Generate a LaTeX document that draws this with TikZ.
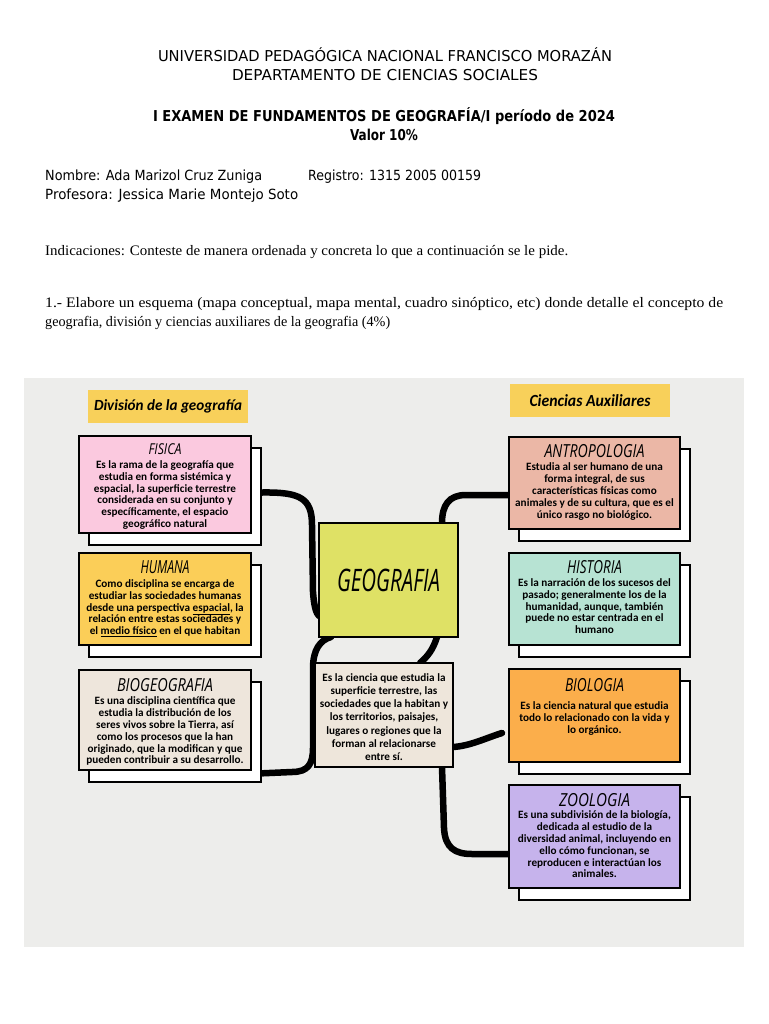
\documentclass[tikz,border=0pt]{standalone}
\usepackage{fontspec}
\usepackage{graphicx}
\setmainfont{Liberation Serif}
\newfontfamily\headf{DejaVu Sans}
\newfontfamily\bodyf{Carlito}
\newfontfamily\titlef{Open Sans}
\usetikzlibrary{calc}

\definecolor{bgpanel}{HTML}{EDEDEB}
\definecolor{tagyel}{HTML}{F8D05A}
\definecolor{cFis}{HTML}{FBC9DF}
\definecolor{cHum}{HTML}{FBCE58}
\definecolor{cBge}{HTML}{EEE6DC}
\definecolor{cAnt}{HTML}{EBB7A6}
\definecolor{cHis}{HTML}{B7E3D3}
\definecolor{cBio}{HTML}{FBAE4B}
\definecolor{cZoo}{HTML}{C6B3EC}
\definecolor{cGeo}{HTML}{DFE165}
\definecolor{cDef}{HTML}{EEE6DB}

\newsavebox\fitbox
\newlength\fitlen
\newcommand\hfit[2]{\sbox\fitbox{#2}\setlength\fitlen{\wd\fitbox}\pgfmathsetmacro\fitratio{#1/\fitlen}\scalebox{\fitratio}[1]{\usebox\fitbox}}
\newcommand\firstln{\rule{0pt}{9pt}}

\tikzset{
  card/.style={draw=black, line width=2.6pt, rectangle, inner sep=0pt},
  backcard/.style={card, fill=white},
  conn/.style={line width=6.5pt, draw=black, line cap=round},
  ttl/.style={inner sep=0pt, font=\titlef\itshape\fontsize{18}{18}\selectfont},
  bod/.style={inner sep=0pt, align=center, anchor=north, font=\bodyf\bfseries\fontsize{11.2}{11.8}\selectfont},
  tag/.style={fill=tagyel, inner sep=0pt, minimum width=160pt, minimum height=33pt},
  hdr/.style={inner sep=0pt, anchor=base, font=\headf\fontsize{15}{15}\selectfont},
  hdrb/.style={hdr, font=\headf\bfseries\fontsize{15}{15}\selectfont},
  info/.style={inner sep=0pt, anchor=base west, font=\headf\fontsize{14}{14}\selectfont},
  serif/.style={inner sep=0pt, anchor=base west, font=\fontsize{14.5}{14.5}\selectfont},
}

\begin{document}
\begin{tikzpicture}[x=1pt, y=-1pt]
\fill[white] (0,0) rectangle (768,1024);
\useasboundingbox (0,0) rectangle (768,1024);

% header text
\node[hdr] (h1) at (385,62) {\hfit{454}{UNIVERSIDAD PEDAGÓGICA NACIONAL FRANCISCO MORAZÁN}};
\node[hdr] (h2) at (385,81) {\hfit{306}{DEPARTAMENTO DE CIENCIAS SOCIALES}};
\node[hdrb] (h3) at (384,122) {\hfit{462}{I EXAMEN DE FUNDAMENTOS DE GEOGRAFÍA/I período de 2024}};
\node[hdrb] (h4) at (384,141) {\hfit{68}{Valor 10\%}};
\node[info] (nom) at (45,181) {\hfit{217}{Nombre: Ada Marizol Cruz Zuniga}};
\node[info] (reg) at (308,181) {\hfit{173}{Registro: 1315 2005 00159}};
\node[info] (prof) at (45,200) {\hfit{253}{Profesora: Jessica Marie Montejo Soto}};
\node[serif] (ind) at (45,255) {\hfit{523}{Indicaciones: Conteste de manera ordenada y concreta lo que a continuación se le pide.}};
\node[serif] (q1) at (45,307) {\hfit{678}{1.- Elabore un esquema (mapa conceptual, mapa mental, cuadro sinóptico, etc) donde detalle el concepto de}};
\node[serif] (q2) at (45,326) {\hfit{345}{geografia, división y ciencias auxiliares de la geografia (4\%)}};

% panel
\fill[bgpanel] (24,378) rectangle (744,947);

% tags
\node[tag] (tagL) at (168,406.5) {\bodyf\bfseries\itshape\fontsize{15.5}{15.5}\selectfont\hfit{148}{División de la geografía}};
\node[tag] (tagR) at (590,400.5) {\bodyf\bfseries\itshape\fontsize{17}{17}\selectfont\hfit{121}{Ciencias Auxiliares}};

% back cards (shadows)
\node[backcard, minimum width=172pt, minimum height=97pt] (fisB) at (175,496.5) {};
\node[backcard, minimum width=172pt, minimum height=92pt] (humB) at (175,611) {};
\node[backcard, minimum width=172pt, minimum height=100pt] (bgeB) at (175,732) {};
\node[backcard, minimum width=171pt, minimum height=92pt] (antB) at (604.5,495) {};
\node[backcard, minimum width=171pt, minimum height=92pt] (hisB) at (604.5,611) {};
\node[backcard, minimum width=171pt, minimum height=93pt] (bioB) at (604.5,727.5) {};
\node[backcard, minimum width=171pt, minimum height=103pt] (zooB) at (604.5,848.5) {};

% connectors
\path (fisB.east) ++(0,-4) coordinate (c1a);
\coordinate (c1b) at (319,616);
\draw[conn] (c1a) .. controls (300,492) and (312,498) .. (312,525) -- (313,592) .. controls (314,606) and (316,613) .. (c1b);

\path (bgeB.south east) ++(0,-10) coordinate (c2a);
\coordinate (c2b) at (331,637);
\draw[conn] (c2a) -- (292,772) .. controls (308,772) and (313,764) .. (313,748) -- (313,668) .. controls (313,650) and (320,640) .. (c2b);

\coordinate (c3a) at (509,495);
\coordinate (c3b) at (442,523);
\draw[conn] (c3a) -- (466,495) .. controls (449,495) and (442,505) .. (c3b);

\coordinate (c4a) at (437,637);
\coordinate (c4b) at (420,663);
\draw[conn] (c4a) .. controls (433,650) and (427,657) .. (c4b);

\coordinate (c5a) at (453,747);
\coordinate (c5b) at (502,733);
\draw[conn] (c5a) .. controls (470,746) and (486,738) .. (c5b);

\coordinate (c6a) at (442,767);
\coordinate (c6b) at (509,854);
\draw[conn] (c6a) -- (444,828) .. controls (445,848) and (455,854) .. (472,854) -- (c6b);

% back cards again on top of connector ends
\node[backcard, minimum width=172pt, minimum height=97pt] at (fisB) {};
\node[backcard, minimum width=172pt, minimum height=92pt] at (humB) {};
\node[backcard, minimum width=172pt, minimum height=100pt] at (bgeB) {};
\node[backcard, minimum width=171pt, minimum height=92pt] at (antB) {};
\node[backcard, minimum width=171pt, minimum height=92pt] at (hisB) {};
\node[backcard, minimum width=171pt, minimum height=93pt] at (bioB) {};
\node[backcard, minimum width=171pt, minimum height=103pt] at (zooB) {};

% main cards
\node[card, fill=cFis, minimum width=172pt, minimum height=97pt] (fis) at (165,484.5) {};
\node[card, fill=cHum, minimum width=172pt, minimum height=92pt] (hum) at (165,599) {};
\node[card, fill=cBge, minimum width=172pt, minimum height=100pt] (bge) at (165,720) {};
\node[card, fill=cAnt, minimum width=171pt, minimum height=92pt] (ant) at (594.5,483) {};
\node[card, fill=cHis, minimum width=171pt, minimum height=92pt] (his) at (594.5,599) {};
\node[card, fill=cBio, minimum width=171pt, minimum height=93pt] (bio) at (594.5,715.5) {};
\node[card, fill=cZoo, minimum width=171pt, minimum height=103pt] (zoo) at (594.5,836.5) {};
\node[card, fill=cGeo, minimum width=139pt, minimum height=114pt] (geo) at (388.5,580) {};
\node[card, fill=cDef, minimum width=138pt, minimum height=104pt] (def) at (384,715) {};

% titles
\node[ttl, font=\titlef\itshape\fontsize{15}{15}\selectfont] (fisT) at ($(fis.north)+(0,14.5)$) {\hfit{33}{FISICA}};
\node[ttl] (humT) at ($(hum.north)+(0,15.5)$) {\hfit{49}{HUMANA}};
\node[ttl] (bgeT) at ($(bge.north)+(0,16.5)$) {\hfit{96}{BIOGEOGRAFIA}};
\node[ttl] (antT) at ($(ant.north)+(0,15.5)$) {\hfit{100}{ANTROPOLOGIA}};
\node[ttl] (hisT) at ($(his.north)+(0,15)$) {\hfit{55}{HISTORIA}};
\node[ttl] (bioT) at ($(bio.north)+(0,17)$) {\hfit{59}{BIOLOGIA}};
\node[ttl] (zooT) at ($(zoo.north)+(0,16.5)$) {\hfit{71}{ZOOLOGIA}};
\node[ttl, font=\titlef\itshape\fontsize{31}{31}\selectfont] (geoT) at (geo) {\hfit{103}{GEOGRAFIA}};

% bodies
\node[bod] (fisX) at ($(fis.north)+(0,24.5)$) {\firstln Es la rama de la geografía que\\ estudia en forma sistémica y\\ espacial, la superficie terrestre\\ considerada en su conjunto y\\ específicamente, el espacio\\ geográfico natural};
\node[bod] (humX) at ($(hum.north)+(0,26.5)$) {\firstln Como disciplina se encarga de\\ estudiar las sociedades humanas\\ desde una perspectiva \underline{espacial}, la\\ relación entre estas sociedades y\\ el \underline{medio físico} en el que habitan};
\node[bod] (bgeX) at ($(bge.north)+(0,27)$) {\firstln Es una disciplina científica que\\ estudia la distribución de los\\ seres vivos sobre la Tierra, así\\ como los procesos que la han\\ originado, que la modifican y que\\ pueden contribuir a su desarrollo.};
\node[bod] (antX) at ($(ant.north)+(0,26)$) {\firstln Estudia al ser humano de una\\ forma integral, de sus\\ características físicas como\\ animales y de su cultura, que es el\\ único rasgo no biológico.};
\node[bod] (hisX) at ($(his.north)+(0,25.5)$) {\firstln Es la narración de los sucesos del\\ pasado; generalmente los de la\\ humanidad, aunque, también\\ puede no estar centrada en el\\ humano};
\node[bod] (bioX) at ($(bio.north)+(0,33)$) {\firstln Es la ciencia natural que estudia\\ todo lo relacionado con la vida y\\ lo orgánico.};
\node[bod] (zooX) at ($(zoo.north)+(0,26)$) {\firstln Es una subdivisión de la biología,\\ dedicada al estudio de la\\ diversidad animal, incluyendo en\\ ello cómo funcionan, se\\ reproducen e interactúan los\\ animales.};
\node[bod, anchor=center, font=\bodyf\bfseries\fontsize{11.2}{13.2}\selectfont] (defX) at ($(def)+(0,2)$) {Es la ciencia que estudia la\\ superficie terrestre, las\\ sociedades que la habitan y\\ los territorios, paisajes,\\ lugares o regiones que la\\ forman al relacionarse\\ entre sí.};
\end{tikzpicture}
\end{document}
